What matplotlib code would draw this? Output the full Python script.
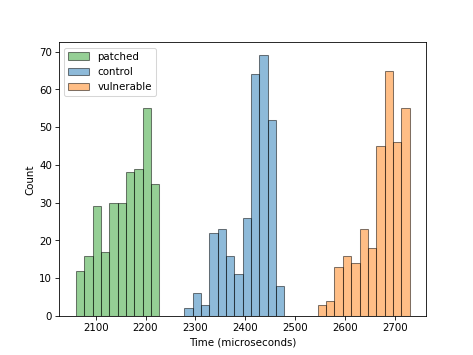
import numpy as np
import matplotlib
matplotlib.use("Agg")
import matplotlib.pyplot as plt

# common bin edges (40 bins)
bin_min = 2060.4
bin_max = 2729.0
n_bins = 40

series_names = ["patched", "control", "vulnerable"]
series_colors = ["#2ca02c", "#1f77b4", "#ff7f0e"]

# first bin index of each series and its counts
patched_start = 0
patched_counts = [12, 16, 29, 17, 30, 30, 38, 39, 55, 35]
control_start = 13
control_counts = [2, 6, 3, 22, 23, 16, 11, 26, 64, 69, 52, 8]
vulnerable_start = 29
vulnerable_counts = [3, 4, 13, 16, 14, 23, 18, 45, 65, 46, 55]

edges = np.linspace(bin_min, bin_max, n_bins + 1)

fig = plt.figure(figsize=(6.4, 4.8), dpi=74)
ax = fig.add_subplot(111)

for name, color, start, counts in [
    ("patched", series_colors[0], patched_start, patched_counts),
    ("control", series_colors[1], control_start, control_counts),
    ("vulnerable", series_colors[2], vulnerable_start, vulnerable_counts),
]:
    n = len(counts)
    left = edges[start:start + n]
    widths = np.diff(edges[start:start + n + 1])
    ax.bar(left, counts, width=widths, align="edge", color=color,
           alpha=0.5, edgecolor="black", linewidth=1.0, label=name)

ax.set_xlabel("Time (microseconds)")
ax.set_ylabel("Count")
ax.legend(loc="upper left")
fig.savefig("out.png", dpi=74)
